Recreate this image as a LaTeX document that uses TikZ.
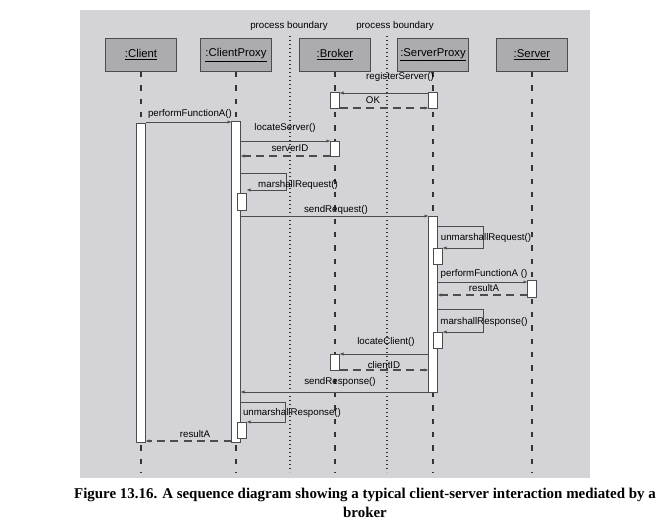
\documentclass[tikz,border=0pt]{standalone}
\usepackage{fontspec}
\setmainfont{Liberation Sans}
\newfontfamily\capfont{Liberation Serif}
\usetikzlibrary{arrows.meta}
\definecolor{bggray}{RGB}{212,212,216}
\definecolor{boxgray}{RGB}{172,172,176}
\tikzset{
  obj/.style={draw=black!70,fill=boxgray,minimum width=53pt,minimum height=25pt,inner sep=0pt,font=\fontsize{8.5}{9}\selectfont},
  life/.style={black!80,line width=1.1pt,dash pattern=on 4pt off 6pt},
  bound/.style={black!80,line width=1pt,dash pattern=on 1pt off 2pt},
  act/.style={draw=black!70,fill=white,line width=0.5pt},
  call/.style={black!70,line width=0.5pt,-{Latex[length=3pt,width=2.5pt]}},
  ret/.style={black!70,line width=0.9pt,dash pattern=on 6pt off 4pt,-{Latex[length=3pt,width=2.5pt]}},
  lbl/.style={font=\fontsize{7.3}{8}\selectfont,inner sep=0.5pt}
}
\begin{document}
\begin{tikzpicture}[x=0.75pt,y=-0.75pt]
  \useasboundingbox (0,0) rectangle (666,528);
  \fill[bggray] (80,10) rectangle (590,478);

  % process boundaries
  \node[lbl] (pb1) at (289,26) {process boundary};
  \node[lbl] (pb2) at (395,26) {process boundary};
  \draw[bound] (290,36) -- (290,472);
  \draw[bound] (387,36) -- (387,472);

  % objects and lifelines
  \foreach \nm/\x/\txt in {client/141/Client, cproxy/236/ClientProxy, broker/335/Broker, sproxy/433/ServerProxy, server/532/Server} {
    \node[obj] (\nm) at (\x,55) {\underline{:\txt}};
    \coordinate (\nm end) at (\x,472);
    \draw[life] (\nm.south) -- (\nm end);
  }

  % activations
  \foreach \x/\ya/\yb in {335/92/108, 433/92/108, 141/123/442, 236/121/442, 335/141/156,
      242/193/210, 433/216/392, 438/248/264, 532/280/297, 438/332/348, 335/354/370, 242/422/438}
    \draw[act] (\x-4.5,\ya) rectangle (\x+4.5,\yb);

  % registerServer
  \coordinate (a1) at (428.5,93);  \coordinate (b1) at (339.5,93);
  \draw[call] (a1) -- (b1);
  \node[lbl] (m1) at (400,77) {registerServer()};
  \coordinate (a2) at (339.5,108); \coordinate (b2) at (428.5,108);
  \draw[ret] (a2) -- (b2);
  \node[lbl] (m2) at (373,100) {OK};

  % performFunctionA
  \coordinate (a3) at (145.5,122); \coordinate (b3) at (231.5,122);
  \draw[call] (a3) -- (b3);
  \node[lbl] (m3) at (190,114) {performFunctionA()};

  % locateServer / serverID
  \coordinate (a4) at (240.5,141); \coordinate (b4) at (330.5,141);
  \draw[call] (a4) -- (b4);
  \node[lbl] (m4) at (285,128) {locateServer()};
  \coordinate (a5) at (330.5,156); \coordinate (b5) at (240.5,156);
  \draw[ret] (a5) -- (b5);
  \node[lbl] (m5) at (290,148) {serverID};

  % marshallRequest
  \coordinate (a6) at (240.5,173); \coordinate (b6) at (246.5,190);
  \draw[call] (a6) -- (286,173) -- (286,190) -- (b6);
  \node[lbl] (m6) at (298,185) {marshallRequest()};

  % sendRequest
  \coordinate (a7) at (240.5,216); \coordinate (b7) at (428.5,216);
  \draw[call] (a7) -- (b7);
  \node[lbl] (m7) at (336,210) {sendRequest()};

  % unmarshallRequest
  \coordinate (a8) at (437.5,226); \coordinate (b8) at (442.5,248);
  \draw[call] (a8) -- (483,226) -- (483,248) -- (b8);
  \node[lbl] (m8) at (486,238) {unmarshallRequest()};

  % performFunctionA / resultA
  \coordinate (a9) at (437.5,282); \coordinate (b9) at (527.5,282);
  \draw[call] (a9) -- (b9);
  \node[lbl] (m9) at (484,274) {performFunctionA ()};
  \coordinate (a10) at (527.5,295); \coordinate (b10) at (437.5,295);
  \draw[ret] (a10) -- (b10);
  \node[lbl] (m10) at (484,288) {resultA};

  % marshallResponse
  \coordinate (a11) at (437.5,309); \coordinate (b11) at (442.5,332);
  \draw[call] (a11) -- (483,309) -- (483,332) -- (b11);
  \node[lbl] (m11) at (484,322) {marshallResponse()};

  % locateClient / clientID
  \coordinate (a12) at (428.5,354); \coordinate (b12) at (339.5,354);
  \draw[call] (a12) -- (b12);
  \node[lbl] (m12) at (386,342) {locateClient()};
  \coordinate (a13) at (339.5,370); \coordinate (b13) at (428.5,370);
  \draw[ret] (a13) -- (b13);
  \node[lbl] (m13) at (384,365) {clientID};

  % sendResponse
  \coordinate (a14) at (428.5,392); \coordinate (b14) at (240.5,392);
  \draw[call] (a14) -- (b14);
  \node[lbl] (m14) at (340,382) {sendResponse()};

  % unmarshallResponse
  \coordinate (a15) at (240.5,402); \coordinate (b15) at (246.5,422);
  \draw[call] (a15) -- (285,402) -- (285,422) -- (b15);
  \node[lbl] (m15) at (292,413) {unmarshallResponse()};

  % resultA
  \coordinate (a16) at (231.5,441); \coordinate (b16) at (145.5,441);
  \draw[ret] (a16) -- (b16);
  \node[lbl] (m16) at (195,434) {resultA};

  % caption
  \node[font=\capfont\bfseries\fontsize{11.2}{14}\selectfont,align=center] (cap) at (365,503)
    {Figure 13.16. A sequence diagram showing a typical client-server interaction mediated by a\\broker};
\end{tikzpicture}
\end{document}
